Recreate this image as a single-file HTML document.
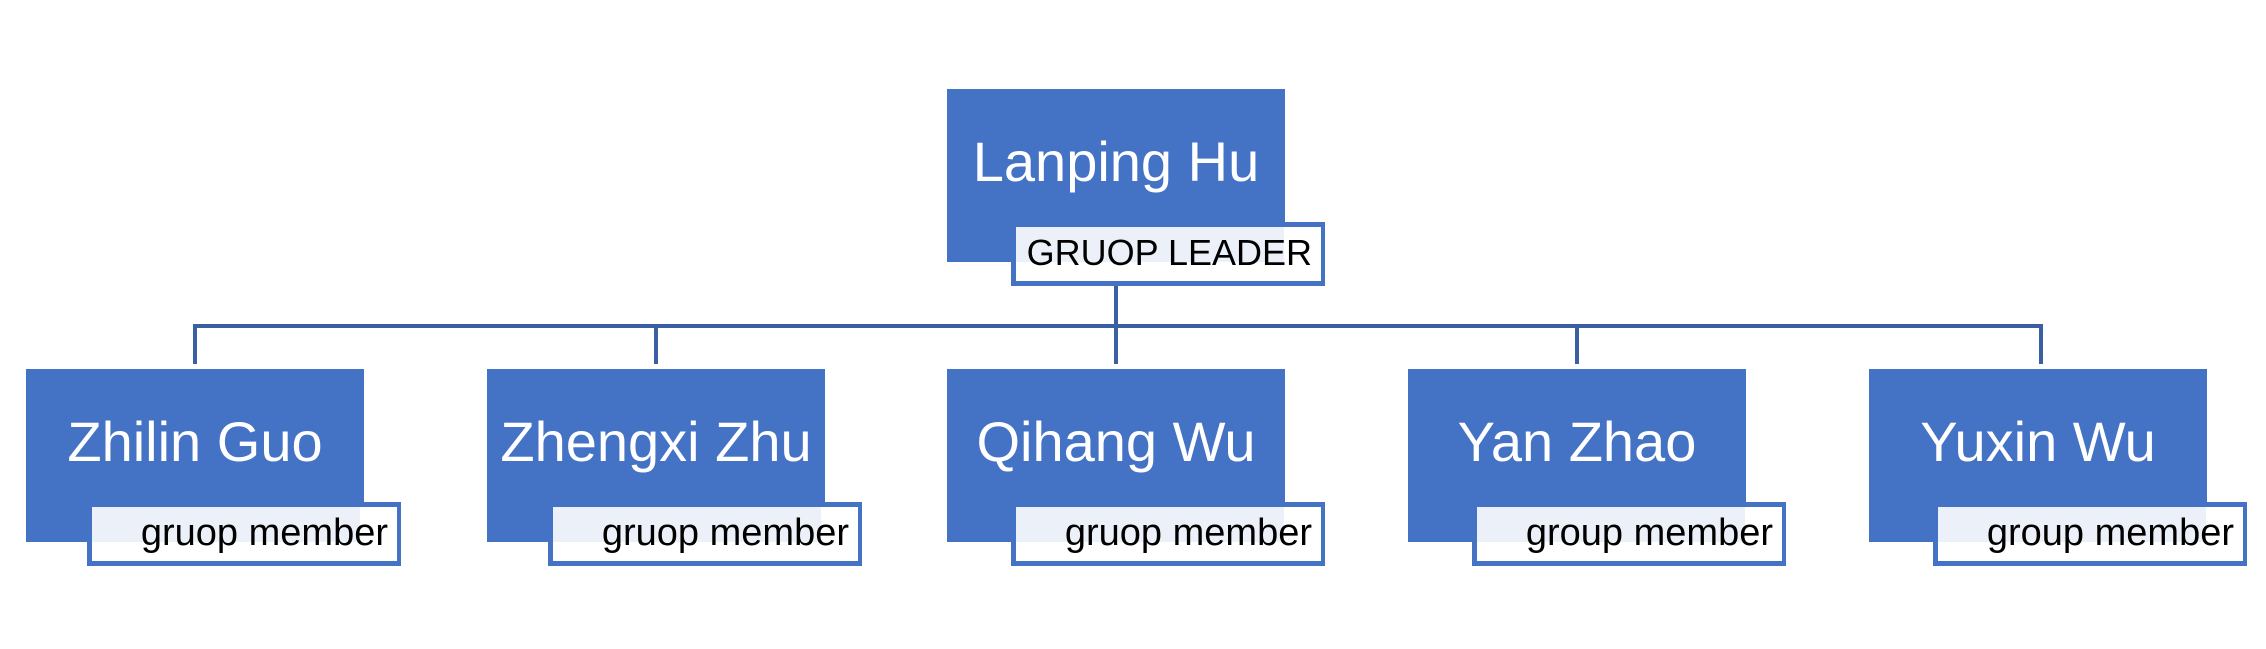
<!DOCTYPE html>
<html><head><style>
body{margin:0;width:2266px;height:649px;background:#fff;position:relative;overflow:hidden;font-family:"Liberation Sans","Noto Sans CJK SC",sans-serif}
.b{position:absolute;background:#4472c4;width:338px;height:173px;color:#fff;font-size:56px;text-align:center;line-height:1;box-sizing:border-box;padding-top:45px;white-space:nowrap}
.l{position:absolute;width:314px;height:64px;box-sizing:border-box;border:5px solid #4472c4;background:linear-gradient(to bottom,#ecf0f9 0,#ecf0f9 35px,#fff 35px);color:#000;font-size:38px;text-align:right;padding-right:8px;line-height:52px;white-space:nowrap}
.l span{position:absolute;right:-1px;top:0;width:37px;height:54px;background:#fff}
.l i{position:relative;font-style:normal}
.v{position:absolute;background:#3a5fa3;width:4px}
</style></head><body>
<div class="v" style="left:1114px;top:286px;height:78px"></div>
<div style="position:absolute;left:193px;top:324px;width:1850px;height:4px;background:#3a5fa3"></div>
<div class="v" style="left:193px;top:324px;height:40px"></div>
<div class="v" style="left:654px;top:324px;height:40px"></div>
<div class="v" style="left:1575px;top:324px;height:40px"></div>
<div class="v" style="left:2039px;top:324px;height:40px"></div>

<div class="b" style="left:947px;top:89px">Lanping Hu</div>
<div class="l" style="left:1011px;top:222px;font-size:36px"><span></span><i>GRUOP LEADER</i></div>

<div class="b" style="left:26px;top:369px">Zhilin Guo</div>
<div class="l" style="left:87px;top:502px"><span></span><i>gruop member</i></div>
<div class="b" style="left:487px;top:369px">Zhengxi Zhu</div>
<div class="l" style="left:548px;top:502px"><span></span><i>gruop member</i></div>
<div class="b" style="left:947px;top:369px">Qihang Wu</div>
<div class="l" style="left:1011px;top:502px"><span></span><i>gruop member</i></div>
<div class="b" style="left:1408px;top:369px">Yan Zhao</div>
<div class="l" style="left:1472px;top:502px"><span></span><i>group member</i></div>
<div class="b" style="left:1869px;top:369px">Yuxin Wu</div>
<div class="l" style="left:1933px;top:502px"><span></span><i>group member</i></div>
</body></html>
